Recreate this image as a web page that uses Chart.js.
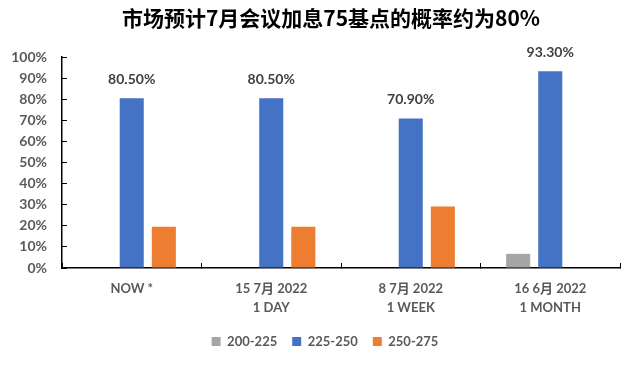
<!DOCTYPE html>
<html>
<head>
<meta charset="utf-8">
<script src="https://cdn.jsdelivr.net/npm/chart.js@4"></script>
<style>
  html, body { margin: 0; padding: 0; background: #fff; }
  #wrap { width: 640px; height: 369px; }
</style>
</head>
<body>
<div id="wrap"><canvas id="myChart" width="640" height="369"></canvas></div>
<script>
// data
const chartTitle = "市场预计7月会议加息75基点的概率约为80%";
const categories = ["NOW *", ["15 7月 2022", "1 DAY"], ["8 7月 2022", "1 WEEK"], ["16 6月 2022", "1 MONTH"]];
const seriesNames = ["200-225", "225-250", "250-275"];
const rate200 = [0, 0, 0, 6.7];
const rate225 = [80.5, 80.5, 70.9, 93.3];
const rate250 = [19.5, 19.5, 29.1, 0];
const yTicks = [0, 10, 20, 30, 40, 50, 60, 70, 80, 90, 100];

const fontFamily = 'Lato, "Noto Sans CJK SC", sans-serif';
const gray = "#595959";

//----------------- title + labels over the blue bars -----------------
const barLabels = {
  id: "barLabels",
  afterLayout(chart) {
    // legend sits a little right of centre in the original
    chart.legend.left += 15;
    chart.legend.right += 15;
  },
  afterDatasetsDraw(chart) {
    const ctx = chart.ctx;
    const meta = chart.getDatasetMeta(1);
    ctx.save();
    ctx.font = "bold 14px " + fontFamily;
    ctx.fillStyle = "#404040";
    ctx.textAlign = "center";
    ctx.textBaseline = "middle";
    meta.data.forEach((bar, i) => {
      ctx.fillText(rate225[i].toFixed(2) + "%", bar.x, bar.y - 19);
    });
    // title sits a bit right of the canvas centre in the original
    ctx.font = 'bold 21px "Noto Sans CJK SC", sans-serif';
    ctx.fillStyle = "#000";
    ctx.fillText(chartTitle, 331, 18);
    ctx.restore();
  },
};

const data = {
  labels: categories,
  datasets: [
    { label: seriesNames[0], data: rate200, backgroundColor: "#A5A5A5" },
    { label: seriesNames[1], data: rate225, backgroundColor: "#4472C4" },
    { label: seriesNames[2], data: rate250, backgroundColor: "#ED7D31" },
  ],
};

const config = {
  type: "bar",
  data,
  options: {
    responsive: false,
    animation: false,
    datasets: { bar: { categoryPercentage: 0.69, barPercentage: 0.75, borderWidth: 0 } },
    layout: { padding: { left: 0, right: 20, top: 57, bottom: 11 } },
    plugins: {
      title: { display: false },
      legend: {
        position: "bottom",
        labels: {
          boxWidth: 9,
          boxHeight: 9,
          padding: 15,
          color: gray,
          font: { family: fontFamily, size: 13, weight: "bold" },
        },
      },
      tooltip: { enabled: false },
    },
    scales: {
      x: {
        grid: { drawOnChartArea: false, color: "#000", tickLength: -5, offset: true },
        border: { color: "#000", width: 1.5 },
        ticks: {
          color: gray,
          padding: 16,
          font: { family: fontFamily, size: 13, weight: "bold", lineHeight: 1.5 },
          maxRotation: 0,
        },
        afterFit(scale) { scale.height = 52; },
      },
      y: {
        min: 0,
        max: 100,
        grid: { drawOnChartArea: false, color: "#000", tickLength: -5 },
        border: { color: "#000", width: 1.5 },
        afterBuildTicks(scale) { scale.ticks = yTicks.map((v) => ({ value: v })); },
        ticks: {
          color: gray,
          padding: 20,
          font: { family: fontFamily, size: 14, weight: "bold" },
          callback: (v) => v + "%",
        },
        afterFit(scale) { scale.width = 62; },
      },
    },
  },
  plugins: [barLabels],
};

const myChart = new Chart(document.getElementById("myChart"), config);
</script>
</body>
</html>
